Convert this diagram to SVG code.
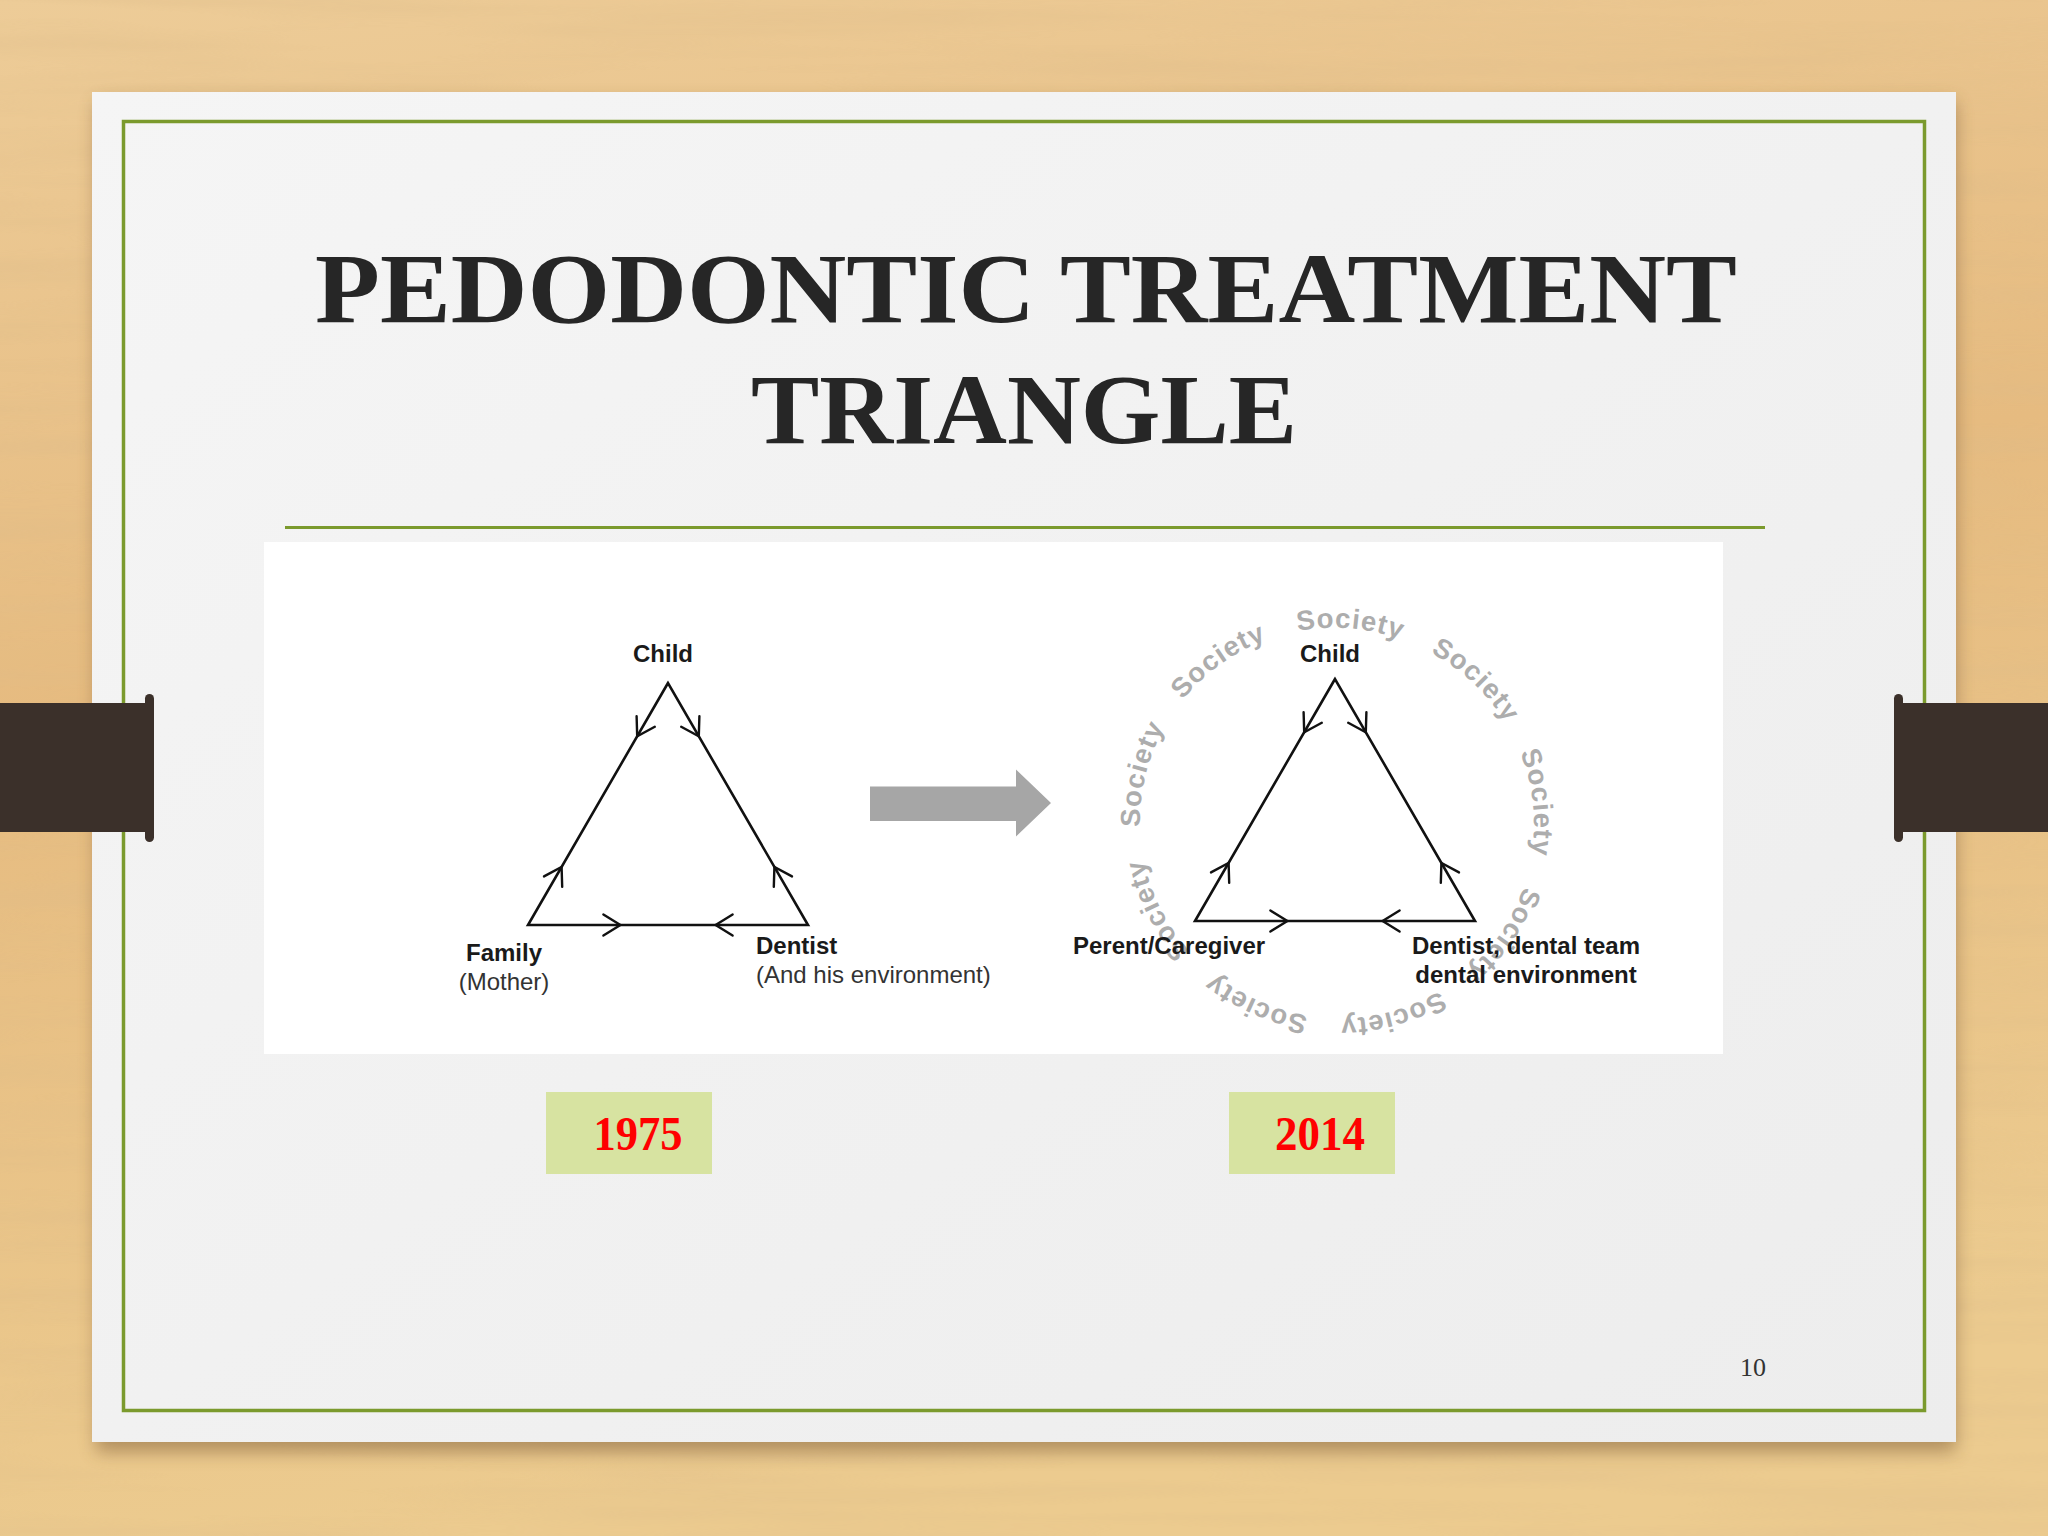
<svg xmlns="http://www.w3.org/2000/svg" width="2048" height="1536" viewBox="0 0 2048 1536">
<style>
.lbl{font-family:"Liberation Sans",Arial,sans-serif;font-size:24px;fill:#1a1a1a}
.b{font-weight:bold}
.reg{fill:#333333}
.soc{font-family:"Liberation Sans",Arial,sans-serif;font-size:27.5px;font-weight:bold;fill:#adadad;letter-spacing:1px}
.edge{stroke:#111111;stroke-width:2.6;fill:none;stroke-linejoin:miter}
.chev{stroke:#111111;stroke-width:2.4;fill:none;stroke-linecap:round;stroke-linejoin:miter}
.title{font-family:"Liberation Serif","Times New Roman",serif;font-size:100px;font-weight:bold;fill:#262626}
.year{font-family:"Liberation Serif","Times New Roman",serif;font-size:49px;font-weight:bold;fill:#ff0000}
.ybox{fill:#d7e3a1}
.tab{fill:#3b302a}
</style>
<defs>
<linearGradient id="wood" x1="0" y1="0" x2="0.2" y2="1">
<stop offset="0" stop-color="#edcc98"/>
<stop offset="0.45" stop-color="#e6bb80"/>
<stop offset="1" stop-color="#eccb8f"/>
</linearGradient>
<linearGradient id="slidefill" x1="0" y1="0" x2="1" y2="1">
<stop offset="0" stop-color="#f5f5f5"/>
<stop offset="1" stop-color="#ededed"/>
</linearGradient>
<filter id="shadow" x="-5%" y="-5%" width="110%" height="115%">
<feGaussianBlur stdDeviation="9"/>
</filter>
<filter id="grain" x="0" y="0" width="100%" height="100%">
<feTurbulence type="fractalNoise" baseFrequency="0.002 0.035" numOctaves="3" seed="7"/>
<feColorMatrix type="matrix" values="0 0 0 0 0.72  0 0 0 0 0.50  0 0 0 0 0.25  0 0 0 1.4 -0.55"/>
</filter>
<path id="chev" d="M -17 -10.5 L 0 0 L -17 10.5"/>
<path id="ring" d="M 1415.9 645.8 A 194 194 0 1 1 1258.1 1000.2 A 194 194 0 1 1 1415.9 645.8"/>
</defs>

<!-- background -->
<rect x="0" y="0" width="2048" height="1536" fill="url(#wood)"/>
<rect x="0" y="0" width="2048" height="1536" filter="url(#grain)" opacity="0.5"/>

<!-- slide -->
<rect x="96" y="102" width="1860" height="1350" fill="#6b4a25" opacity="0.45" filter="url(#shadow)"/>
<rect x="92" y="92" width="1864" height="1350" fill="url(#slidefill)"/>
<rect x="123.5" y="121.5" width="1801" height="1289" fill="none" stroke="#7b9a2d" stroke-width="3.5"/>

<!-- tabs -->
<g id="tab-left">
<rect class="tab" x="0" y="703" width="150" height="129"/>
<rect class="tab" x="145" y="694" width="9" height="148" rx="4.5"/>
</g>
<g id="tab-right">
<rect class="tab" x="1898" y="703" width="150" height="129"/>
<rect class="tab" x="1894" y="694" width="9" height="148" rx="4.5"/>
</g>

<!-- title -->
<g id="title">
<text class="title" x="1026" y="322" text-anchor="middle" textLength="1422" lengthAdjust="spacingAndGlyphs">PEDODONTIC TREATMENT</text>
<text class="title" x="1024" y="443" text-anchor="middle" textLength="546" lengthAdjust="spacingAndGlyphs">TRIANGLE</text>
</g>
<line x1="285" y1="527.5" x2="1765" y2="527.5" stroke="#7b9a2d" stroke-width="3"/>

<!-- image panel -->
<rect x="264" y="542" width="1459" height="512" fill="#ffffff"/>

<!-- society ring -->
<g id="society-ring">
<text class="soc" text-anchor="middle"><textPath href="#ring" startOffset="5.556%">Society</textPath></text>
<text class="soc" text-anchor="middle"><textPath href="#ring" startOffset="16.667%">Society</textPath></text>
<text class="soc" text-anchor="middle"><textPath href="#ring" startOffset="27.778%">Society</textPath></text>
<text class="soc" text-anchor="middle"><textPath href="#ring" startOffset="38.889%">Society</textPath></text>
<text class="soc" text-anchor="middle"><textPath href="#ring" startOffset="50%">Society</textPath></text>
<text class="soc" text-anchor="middle"><textPath href="#ring" startOffset="61.111%">Society</textPath></text>
<text class="soc" text-anchor="middle"><textPath href="#ring" startOffset="72.222%">Society</textPath></text>
<text class="soc" text-anchor="middle"><textPath href="#ring" startOffset="83.333%">Society</textPath></text>
<text class="soc" text-anchor="middle"><textPath href="#ring" startOffset="94.444%">Society</textPath></text>
</g>

<!-- connectors -->
<g id="connectors">
<polygon class="edge" points="668,683 528,925 808,925"/>
<use href="#chev" class="chev" transform="translate(637.2 736.2) rotate(120)"/>
<use href="#chev" class="chev" transform="translate(561.6 866.9) rotate(-60)"/>
<use href="#chev" class="chev" transform="translate(698.8 736.2) rotate(60)"/>
<use href="#chev" class="chev" transform="translate(774.4 866.9) rotate(-120)"/>
<use href="#chev" class="chev" transform="translate(620.4 925) rotate(0)"/>
<use href="#chev" class="chev" transform="translate(715.6 925) rotate(180)"/>

<polygon class="edge" points="1335,679 1195,921 1475,921"/>
<use href="#chev" class="chev" transform="translate(1304.2 732.2) rotate(120)"/>
<use href="#chev" class="chev" transform="translate(1228.6 862.9) rotate(-60)"/>
<use href="#chev" class="chev" transform="translate(1365.8 732.2) rotate(60)"/>
<use href="#chev" class="chev" transform="translate(1441.4 862.9) rotate(-120)"/>
<use href="#chev" class="chev" transform="translate(1287.4 921) rotate(0)"/>
<use href="#chev" class="chev" transform="translate(1382.6 921) rotate(180)"/>

<polygon id="big-arrow" points="870,786.5 1016,786.5 1016,769.5 1051,803 1016,836.5 1016,821 870,821" fill="#a6a6a6"/>
</g>

<!-- 1975 nodes -->
<g id="node-child-1975"><text class="lbl b" x="663" y="662" text-anchor="middle">Child</text></g>
<g id="node-family-1975">
<text class="lbl b" x="504" y="961" text-anchor="middle">Family</text>
<text class="lbl reg" x="504" y="990" text-anchor="middle">(Mother)</text>
</g>
<g id="node-dentist-1975">
<text class="lbl b" x="756" y="954">Dentist</text>
<text class="lbl reg" x="756" y="983">(And his environment)</text>
</g>

<!-- 2014 nodes -->
<g id="node-child-2014"><text class="lbl b" x="1330" y="662" text-anchor="middle">Child</text></g>
<g id="node-parent-2014"><text class="lbl b" x="1073" y="954">Perent/Caregiver</text></g>
<g id="node-dentist-2014">
<text class="lbl b" x="1526" y="954" text-anchor="middle">Dentist, dental team</text>
<text class="lbl b" x="1526" y="983" text-anchor="middle">dental environment</text>
</g>

<!-- year labels -->
<g id="year-1975">
<rect class="ybox" x="546" y="1092" width="166" height="82"/>
<text class="year" x="638" y="1150" text-anchor="middle" textLength="89" lengthAdjust="spacingAndGlyphs">1975</text>
</g>
<g id="year-2014">
<rect class="ybox" x="1229" y="1092" width="166" height="82"/>
<text class="year" x="1320" y="1150" text-anchor="middle" textLength="90" lengthAdjust="spacingAndGlyphs">2014</text>
</g>

<text x="1753" y="1376" text-anchor="middle" font-family="'Liberation Serif','Times New Roman',serif" font-size="26" fill="#333333">10</text>
</svg>
